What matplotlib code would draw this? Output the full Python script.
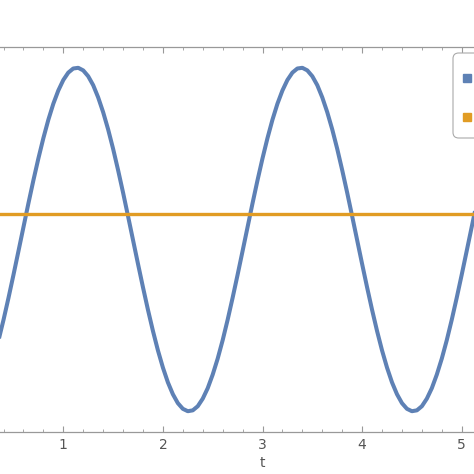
import matplotlib
matplotlib.use("Agg")
import matplotlib.pyplot as plt
from matplotlib.lines import Line2D
from matplotlib.patches import FancyBboxPatch
from matplotlib.ticker import MultipleLocator

# curve samples, t from 0.35 to 5.15 every 0.05
t = [round(0.35 + 0.05 * i, 2) for i in range(97)]
x_vals = [-0.586, -0.467, -0.339, -0.205, -0.067, 0.072, 0.211, 0.345, 0.472, 0.590,
          0.697, 0.790, 0.867, 0.928, 0.971, 0.995, 0.999, 0.984, 0.950, 0.898,
          0.827, 0.741, 0.641, 0.528, 0.404, 0.273, 0.136, -0.003, -0.142, -0.278,
          -0.409, -0.532, -0.645, -0.745, -0.831, -0.900, -0.952, -0.985, -0.999, -0.994,
          -0.970, -0.926, -0.865, -0.786, -0.693, -0.586, -0.467, -0.339, -0.205, -0.067,
          0.072, 0.211, 0.345, 0.472, 0.590, 0.697, 0.790, 0.867, 0.928, 0.971,
          0.995, 0.999, 0.984, 0.950, 0.898, 0.827, 0.741, 0.641, 0.528, 0.404,
          0.273, 0.136, -0.003, -0.142, -0.278, -0.409, -0.532, -0.645, -0.745, -0.831,
          -0.900, -0.952, -0.985, -0.999, -0.994, -0.970, -0.926, -0.865, -0.786, -0.693,
          -0.586, -0.467, -0.339, -0.205, -0.067, 0.072, 0.211]
level = 0.15
labels = ["x(t)", "c"]

blue = "#5E81B5"
orange = "#E19C24"
grey = "#999999"

W = H = 474
fig = plt.figure(figsize=(4.74, 4.74), dpi=100)
# the plot runs wider than the picture: only part of it is visible
ax = fig.add_axes([-0.0766, 0.0886, 1.2608, 0.8122])

ax.plot(t, x_vals, color=blue, lw=2.9, solid_capstyle="butt", zorder=2)
ax.axhline(level, color=orange, lw=2.4, zorder=3)

ax.set_xlim(0, 6)
ax.set_ylim(-1.12, 1.12)

ax.xaxis.set_major_locator(MultipleLocator(1))
ax.xaxis.set_minor_locator(MultipleLocator(0.2))
ax.tick_params(axis="x", which="both", direction="in", top=True, bottom=True,
               color=grey, labelcolor="#555555", labelsize=10, pad=4)
ax.tick_params(axis="x", which="major", length=4.5, width=0.8)
ax.tick_params(axis="x", which="minor", length=2.5, width=0.6)
ax.tick_params(axis="y", left=False, labelleft=False)
for s in ax.spines.values():
    s.set_color(grey)
    s.set_linewidth(0.9)
ax.set_xlabel("t", color="#555555", fontsize=10, labelpad=3)

# legend box, Mathematica style (mostly outside the picture)
box = FancyBboxPatch((453 / W, 1 - 138 / H), 80 / W, 85 / H,
                     boxstyle="round,pad=0,rounding_size=0.012",
                     transform=fig.transFigure, facecolor="white",
                     edgecolor="#aaaaaa", linewidth=0.8, zorder=5)
fig.patches.append(box)
for col, lab, yy in zip([blue, orange], labels, [78, 117]):
    fig.add_artist(Line2D([467 / W], [1 - yy / H], ls="none", marker="s", ms=5.2,
                          color=col, transform=fig.transFigure, zorder=6))
    fig.text(480 / W, 1 - yy / H, lab, va="center", ha="left", fontsize=10,
             color="#555555", zorder=6)

fig.savefig("out.png", dpi=100)
